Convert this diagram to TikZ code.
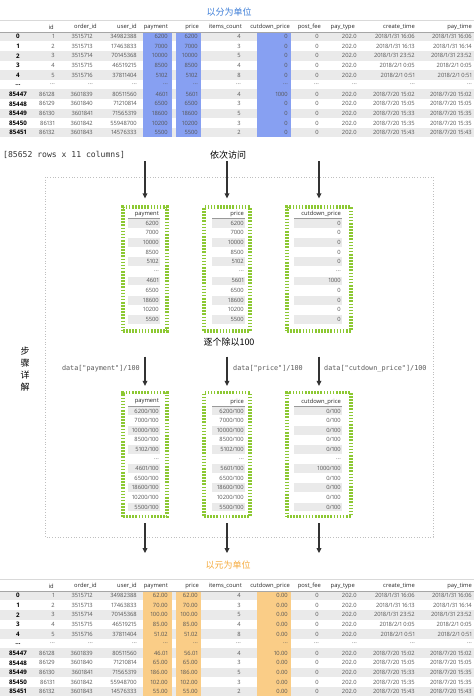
\documentclass[tikz,border=0pt]{standalone}
\usepackage{fontspec}
\setmainfont{Open Sans}[Numbers=Proportional]
\setmonofont{DejaVu Sans Mono}
\newfontfamily\cjkfont{Noto Sans CJK SC}
\usetikzlibrary{arrows.meta,positioning,calc}

\definecolor{bandblue}{RGB}{135,160,242}
\definecolor{bandorange}{RGB}{250,205,135}
\definecolor{rowgray}{RGB}{234,234,234}
\definecolor{cellgray}{RGB}{85,85,85}
\definecolor{boxgreen}{RGB}{140,200,50}
\definecolor{titleblue}{RGB}{60,125,215}
\definecolor{titleorange}{RGB}{245,170,60}
\newcommand{\rowdots}{...}

\begin{document}
\begin{tikzpicture}[x=1pt, y=-1pt,
  cell/.style={anchor=east, inner sep=0pt, text=cellgray, font=\fontsize{5.8}{6}\selectfont},
  head/.style={cell, text=black!85},
  idx/.style={inner sep=0pt, font=\fontsize{6.2}{7}\selectfont\bfseries},
  colbox/.style={draw=boxgreen, line width=3.2pt, dash pattern=on 1.6pt off 1.5pt,
    minimum width=#1, minimum height=124pt, inner sep=0pt},
  flow/.style={draw=black!80, line width=1.3pt, -{Triangle[length=5pt,width=4.6pt]}},
  cjk/.style={font=\cjkfont\fontsize{9}{12}\selectfont, inner sep=0pt},
  code/.style={font=\ttfamily\fontsize{6.8}{8}\selectfont, text=black!65, inner sep=0pt}]
  \useasboundingbox (0,0) rectangle (474,697);

  % frame round the steps
  \draw[black!25, line width=0.7pt, dash pattern=on 0.7pt off 2pt] (45,177) rectangle (433,537);

  % both tables: rows, bands, columns
  \foreach \dy/\band in {0/bandblue, 559/bandorange} {
    \foreach \ck in {1,3,...,11}
      \fill[rowgray] (0,{27+9.6*\ck-4.8+\dy}) rectangle (474,{27+9.6*\ck+4.8+\dy});
    \fill[\band] (143,31.8+\dy) rectangle (172,137.4+\dy);
    \fill[\band] (176,31.8+\dy) rectangle (201,137.4+\dy);
    \fill[\band] (257,31.8+\dy) rectangle (291,137.4+\dy);
    \draw[black!15, line width=0.4pt] (0,20.5+\dy) -- (474,20.5+\dy);
    \draw[black!35, line width=0.5pt] (0,31.8+\dy) -- (474,31.8+\dy);
    \foreach \cname/\cx in {id/54, order\_id/97, user\_id/137, payment/168, price/199,
        items\_count/242, cutdown\_price/290, post\_fee/321, pay\_type/355,
        create\_time/415, pay\_time/472}
      \node[head] at (\cx,27+\dy) {\cname};
    \foreach \ck/\cidx in {1/0, 2/1, 3/2, 4/3, 5/4, 6/\rowdots, 7/85447, 8/85448,
        9/85449, 10/85450, 11/85451}
      \node[idx] at (18,27+9.6*\ck+\dy) {\cidx};
    \foreach \ck/\cid/\coid/\cuid/\ccnt/\cfee/\ctype/\cct/\cpt in {
        1/1/3515712/34982388/4/0/202.0/{2018/1/31 16:06}/{2018/1/31 16:06},
        2/2/3515713/17463833/3/0/202.0/{2018/1/31 16:13}/{2018/1/31 16:14},
        3/3/3515714/70145368/5/0/202.0/{2018/1/31 23:52}/{2018/1/31 23:52},
        4/4/3515715/46519215/4/0/202.0/{2018/2/1 0:05}/{2018/2/1 0:05},
        5/5/3515716/37811404/8/0/202.0/{2018/2/1 0:51}/{2018/2/1 0:51},
        6/\rowdots/\rowdots/\rowdots/\rowdots/\rowdots/\rowdots/\rowdots/\rowdots,
        7/86128/3601839/80511560/4/0/202.0/{2018/7/20 15:02}/{2018/7/20 15:02},
        8/86129/3601840/71210814/3/0/202.0/{2018/7/20 15:05}/{2018/7/20 15:05},
        9/86130/3601841/71565319/5/0/202.0/{2018/7/20 15:33}/{2018/7/20 15:35},
        10/86131/3601842/55948700/3/0/202.0/{2018/7/20 15:35}/{2018/7/20 15:35},
        11/86132/3601843/14576333/2/0/202.0/{2018/7/20 15:43}/{2018/7/20 15:43}} {
      \node[cell] at (55,27+9.6*\ck+\dy) {\cid};
      \node[cell] at (93,27+9.6*\ck+\dy) {\coid};
      \node[cell] at (137,27+9.6*\ck+\dy) {\cuid};
      \node[cell] at (241,27+9.6*\ck+\dy) {\ccnt};
      \node[cell] at (319,27+9.6*\ck+\dy) {\cfee};
      \node[cell] at (357,27+9.6*\ck+\dy) {\ctype};
      \node[cell] at (415,27+9.6*\ck+\dy) {\cct};
      \node[cell] at (472,27+9.6*\ck+\dy) {\cpt};
    }
  }
  % money columns, in fen and in yuan
  \foreach \dy/\cpay/\cpri/\ccut in {
      0/{6200,7000,10000,8500,5102,\rowdots,4601,6500,18600,10200,5500}/{6200,7000,10000,8500,5102,\rowdots,5601,6500,18600,10200,5500}/{0,0,0,0,0,\rowdots,1000,0,0,0,0},
      559/{62.00,70.00,100.00,85.00,51.02,\rowdots,46.01,65.00,186.00,102.00,55.00}/{62.00,70.00,100.00,85.00,51.02,\rowdots,56.01,65.00,186.00,102.00,55.00}/{0.00,0.00,0.00,0.00,0.00,\rowdots,10.00,0.00,0.00,0.00,0.00}} {
    \foreach \val [count=\ck] in \cpay
      \node[cell] at (168,27+9.6*\ck+\dy) {\val};
    \foreach \val [count=\ck] in \cpri
      \node[cell] at (198,27+9.6*\ck+\dy) {\val};
    \foreach \val [count=\ck] in \ccut
      \node[cell] at (288,27+9.6*\ck+\dy) {\val};
  }

  % titles
  \node[cjk, text=titleblue] (unitfen) at (229,12) {以分为单位};
  \node[cjk, text=titleorange] (unityuan) at (228,565) {以元为单位};
  \node[anchor=west, inner sep=0pt, text=black!80, font=\ttfamily\fontsize{8.1}{9}\selectfont]
    (shape) at (3,155) {[85652 rows x 11 columns]};
  \node[cjk] (visit) at (228,155) {依次访问};
  \node[cjk] (divide) at (229,342) {逐个除以100};
  \node[cjk, align=center] (steps) at (25,369) {步\\骤\\详\\解};

  % column boxes
  \node[colbox=44pt] (pay1) at (145,269) {};
  \node[colbox=46pt] (pri1) at (227,269) {};
  \node[colbox=64pt] (cut1) at (319,269) {};
  \node[colbox=44pt] (pay2) at (145,454.5) {};
  \node[colbox=46pt] (pri2) at (227,454.5) {};
  \node[colbox=64pt] (cut2) at (319,454.5) {};

  \foreach \xa/\xb/\hy/\ry/\cname/\vals in {
      128/160/214/223.3/payment/{6200,7000,10000,8500,5102,\rowdots,4601,6500,18600,10200,5500},
      212/245/214/223.3/price/{6200,7000,10000,8500,5102,\rowdots,5601,6500,18600,10200,5500},
      294/342/214/223.3/cutdown\_price/{0,0,0,0,0,\rowdots,1000,0,0,0,0},
      128/160/401.7/411/payment/{6200/100,7000/100,10000/100,8500/100,5102/100,\rowdots,4601/100,6500/100,18600/100,10200/100,5500/100},
      212/245/401.7/411/price/{6200/100,7000/100,10000/100,8500/100,5102/100,\rowdots,5601/100,6500/100,18600/100,10200/100,5500/100},
      294/342/401.7/411/cutdown\_price/{0/100,0/100,0/100,0/100,0/100,\rowdots,1000/100,0/100,0/100,0/100,0/100}} {
    \foreach \ck in {0,2,...,10}
      \fill[rowgray] (\xa,{\ry+9.6*\ck-4.4}) rectangle (\xb,{\ry+9.6*\ck+4.4});
    \draw[black!40, line width=0.5pt] (\xa,\hy+4.5) -- (\xb,\hy+4.5);
    \node[head] at (\xb-1,\hy) {\cname};
    \foreach \val [count=\ck from 0] in \vals
      \node[cell] at (\xb-1,\ry+9.6*\ck) {\val};
  }

  % arrows
  \foreach \cb in {pay,pri,cut} {
    \path (\cb1.north) ++(0,-44) coordinate (\cb in);
    \path (\cb2.south) ++(0,35) coordinate (\cb out);
    \draw[flow, shorten >=7pt] (\cb in) -- (\cb1.north);
    \draw[flow, shorten <=24pt, shorten >=5pt] (\cb1.south) -- (\cb2.north);
    \draw[flow, shorten <=5pt] (\cb2.south) -- (\cb out);
  }
  \node[code, anchor=east] (lblpay) at (140,369) {data["payment"]/100};
  \node[code, anchor=west] (lblpri) at (233,369) {data["price"]/100};
  \node[code, anchor=west] (lblcut) at (324,369) {data["cutdown\_price"]/100};
\end{tikzpicture}
\end{document}
